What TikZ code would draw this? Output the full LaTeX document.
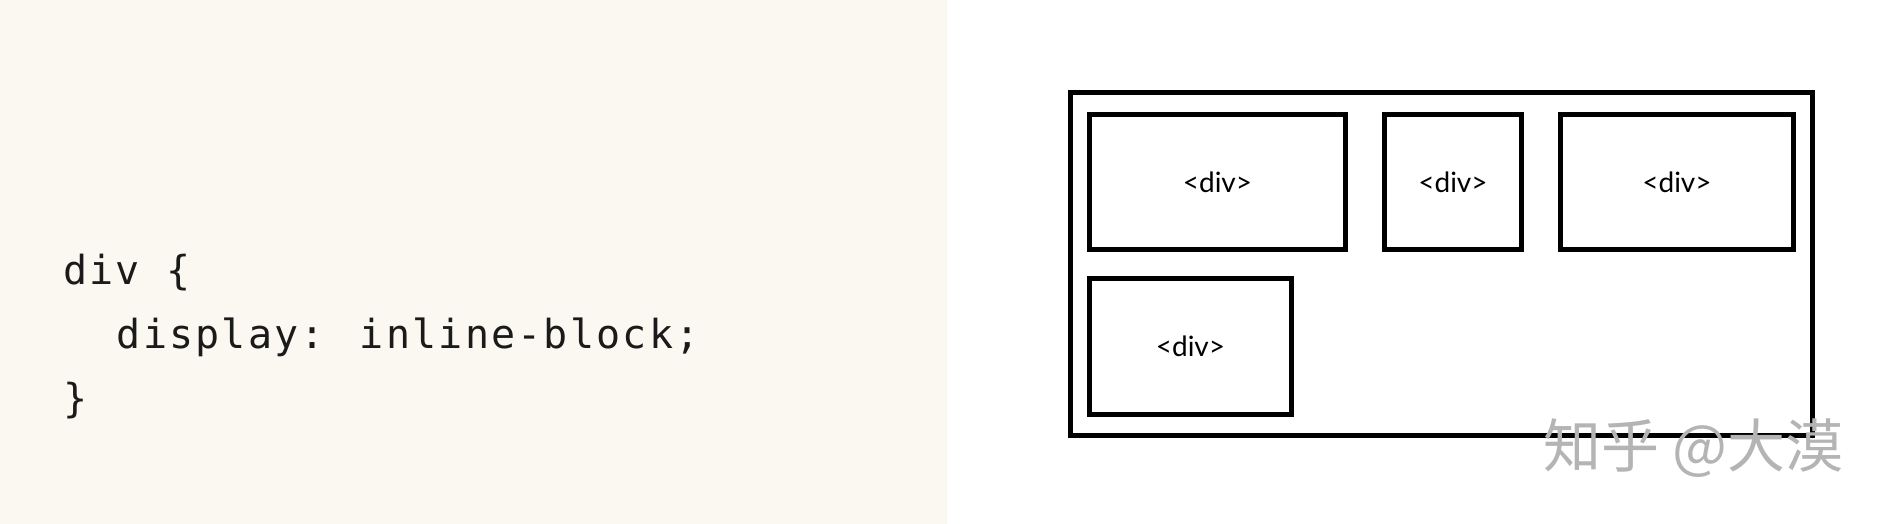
\documentclass[tikz,border=0pt]{standalone}
\usepackage{fontspec}
\newfontfamily\codefont[LetterSpace=5.5]{DejaVu Sans Mono}
\newfontfamily\labelfont{Lato}
\newfontfamily\cjk{Noto Sans CJK SC}
\definecolor{cream}{HTML}{FAF8F1}
\definecolor{codeink}{HTML}{1A1A1A}
\definecolor{wmgray}{HTML}{B4B4B4}
\begin{document}
\begin{tikzpicture}[x=0.5pt,y=-0.5pt,
  divbox/.style={draw=black,line width=2.5pt,rectangle,inner sep=0pt,
    font=\labelfont\fontsize{14pt}{16pt}\selectfont},
  codeline/.style={anchor=base west,inner sep=0pt,text=codeink,
    font=\codefont\fontsize{20pt}{24pt}\selectfont},
  wm/.style={anchor=base west,inner sep=0pt,font=\cjk\fontsize{29pt}{34pt}\selectfont}]
\useasboundingbox (0,0) rectangle (1892,524);
\fill[white] (0,0) rectangle (1892,524);
\fill[cream] (0,0) rectangle (947,524);
% code
\node[codeline] (c1) at (63,284.3) {div \{};
\node[codeline] (c2) at (116.5,348.3) {display: inline-block;};
\node[codeline] (c3) at (63,412.3) {\}};
% container
\node[draw=black,line width=2.5pt,rectangle,inner sep=0pt,
  minimum width=371.25pt,minimum height=171.5pt] (outer) at (1441.25,264) {};
\node[divbox,minimum width=128pt,minimum height=67.5pt] (d1) at (1217.5,182) {<div>};
\node[divbox,minimum width=68.5pt,minimum height=67.5pt] (d2) at (1453,182) {<div>};
\node[divbox,minimum width=116.5pt,minimum height=67.5pt] (d3) at (1677,182) {<div>};
\node[divbox,minimum width=101pt,minimum height=68pt] (d4) at (1190.5,346.5) {<div>};
% watermark
\node[wm,text=wmgray] (wmark) at (1543,467) {知乎 @大漠};
\end{tikzpicture}
\end{document}
